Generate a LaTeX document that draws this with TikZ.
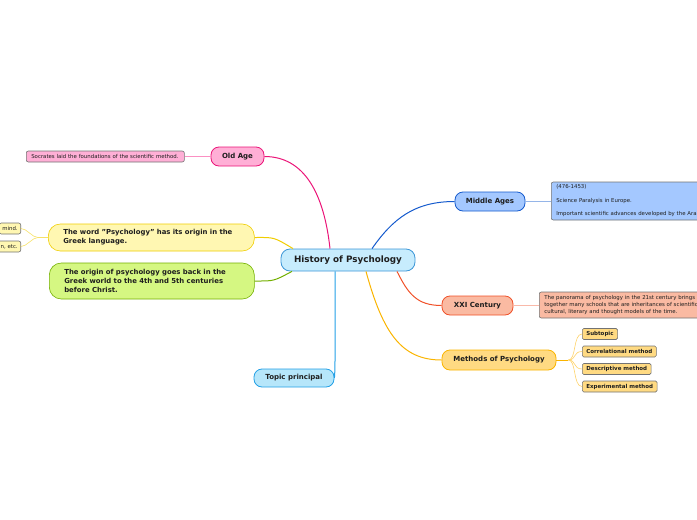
\documentclass[tikz,border=0pt]{standalone}
\usepackage{fontspec}
\setmainfont{DejaVu Sans}
\usetikzlibrary{calc}
\definecolor{cfill}{RGB}{199,236,253}\definecolor{cline}{RGB}{60,150,215}
\definecolor{pfill}{RGB}{255,175,214}\definecolor{pline}{RGB}{235,20,120}
\definecolor{bfill}{RGB}{164,200,255}\definecolor{bline}{RGB}{20,90,205}
\definecolor{sfill}{RGB}{250,186,162}\definecolor{sline}{RGB}{240,80,40}
\definecolor{ofill}{RGB}{255,218,130}\definecolor{oline}{RGB}{250,180,0}
\definecolor{tfill}{RGB}{182,230,250}\definecolor{tline}{RGB}{35,160,230}
\definecolor{yfill}{RGB}{255,247,178}\definecolor{yline}{RGB}{240,205,0}
\definecolor{gfill}{RGB}{213,247,130}\definecolor{gline}{RGB}{115,175,0}
\definecolor{ntext}{RGB}{30,30,30}
\tikzset{
  topic/.style={draw=#1line, fill=#1fill, line width=0.8pt, rounded corners=8pt, inner sep=0pt, text=ntext, font=\fontsize{7}{8}\selectfont\bfseries},
  bigtopic/.style={draw=#1line, fill=#1fill, line width=0.6pt, rounded corners=12pt, inner xsep=15pt, inner ysep=0pt, align=left, anchor=west, text=ntext, font=\fontsize{6.9}{9}\selectfont\bfseries},
  note/.style={draw=gray!90!black, fill=#1fill, line width=0.6pt, rounded corners=2pt, inner xsep=5pt, inner ysep=0pt, align=left, anchor=west, text=ntext, font=\fontsize{5.4}{6.6}\selectfont},
  sub/.style={draw=gray!90!black, fill=ofill, line width=0.6pt, rounded corners=1.5pt, inner xsep=4pt, inner ysep=0pt, minimum height=11pt, anchor=west, text=ntext, font=\fontsize{5.5}{6}\selectfont\bfseries},
  conn/.style={draw=#1, line width=1pt},
  thin/.style={draw=#1, line width=0.6pt}
}
\begin{document}
\begin{tikzpicture}[x=1pt,y=-1pt]
\useasboundingbox (0,0) rectangle (697,520);
\clip (0,0) rectangle (697,520);
% nodes
\node[topic=c, minimum width=134pt, minimum height=22pt, rounded corners=9pt, font=\fontsize{8.8}{10}\selectfont\bfseries] (c) at (348,260) {History of Psychology};
\node[topic=p, minimum width=53pt, minimum height=19pt] (old) at (237.5,156.5) {Old Age};
\node[note=p, minimum height=11pt, text width=148pt] (soc) at (26,156.5) {Socrates laid the foundations of the scientific method.};
\node[note=b, minimum height=38pt, text width=200pt, font=\fontsize{5.4}{6.75}\selectfont] (midn) at (551,201) {(476-1453)\\[6.75pt]Science Paralysis in Europe.\\[6.75pt]Important scientific advances developed by the Arabs.};
\node[topic=b, minimum width=70pt, minimum height=19pt] (mid) at (490,201.5) {Middle Ages};
\node[note=s, minimum height=26pt, text width=200pt] (xxin) at (539,305) {The panorama of psychology in the 21st century brings\\together many schools that are inheritances of scientific,\\cultural, literary and thought models of the time.};
\node[topic=s, minimum width=71pt, minimum height=19pt] (xxi) at (477.5,305.5) {XXI Century};
\node[topic=o, minimum width=114pt, minimum height=20pt] (meth) at (499,360) {Methods of Psychology};
\node[sub, minimum width=35pt] (s1) at (582,334) {Subtopic};
\node[sub, minimum width=73pt] (s2) at (582,351.5) {Correlational method};
\node[sub, minimum width=68pt] (s3) at (582,369) {Descriptive method};
\node[sub, minimum width=74pt] (s4) at (582,386.5) {Experimental method};
\node[topic=t, minimum width=80pt, minimum height=18pt] (tp) at (294,378) {Topic principal};
\node[bigtopic=y, text width=176pt, minimum height=27pt] (word) at (48,237.5) {The word "Psychology" has its origin in the\\Greek language.};
\node[bigtopic=g, text width=175pt, minimum height=36pt] (orig) at (49,281) {The origin of psychology goes back in the\\Greek world to the 4th and 5th centuries\\before Christ.};
\node[note=y, minimum height=11pt, anchor=east, align=right, inner xsep=3pt] (w1) at (21,228.5) {mind.};
\node[note=y, minimum height=11pt, anchor=east, align=right, inner xsep=3pt] (w2) at (21,246.5) {n, etc.};
% main connectors
\draw[conn=pline] ($(c.north)+(-18,0)$) .. controls ($(c.north)+(-24,-55)$) and ($(old.east)+(40,0)$) .. (old.east);
\draw[conn=bline] ($(c.north)+(24,0)$) .. controls ($(c.north)+(45,-30)$) and ($(mid.west)+(-40,0)$) .. (mid.west);
\draw[conn=sline] ($(c.south)+(49,0)$) .. controls ($(c.south)+(60,22)$) and ($(xxi.west)+(-25,0)$) .. (xxi.west);
\draw[conn=oline] ($(c.south)+(18,0)$) .. controls ($(c.south)+(35,62)$) and ($(meth.west)+(-40,0)$) .. (meth.west);
\draw[conn=tline] ($(c.south)+(-13,0)$) .. controls ($(c.south)+(-13,70)$) and ($(tp.east)+(1,-10)$) .. (tp.east);
\draw[conn=yline] ($(c.north)+(-55,0)$) .. controls ($(c.north)+(-75,-12)$) and ($(word.east)+(20,0)$) .. (word.east);
\draw[conn=gline] ($(c.south)+(-56,0)$) .. controls ($(c.south)+(-75,10)$) and ($(orig.east)+(20,0)$) .. (orig.east);
% secondary connectors
\draw[thin=pfill!80!pline] (old.west) -- (soc.east);
\draw[thin=bline!45] (mid.east) -- (midn.west |- mid.east);
\draw[thin=sline!40] (xxi.east) -- (xxin.west |- xxi.east);
\coordinate (mf) at ($(meth.east)+(12,0)$);
\draw[thin=oline] (meth.east) -- (mf);
\foreach \s in {s1,s2,s3,s4}{
  \draw[thin=ofill!80!oline] (mf) .. controls ($(mf)+(8,0)$) and ($(\s.west)+(-9,0)$) .. (\s.west);
}
\coordinate (wf) at ($(word.west)+(-10,0)$);
\draw[thin=yline!60] (word.west) -- (wf);
\foreach \s in {w1,w2}{
  \draw[thin=yline!60] (wf) .. controls ($(wf)+(-6,0)$) and ($(\s.east)+(6,0)$) .. (\s.east);
}
\end{tikzpicture}
\end{document}
